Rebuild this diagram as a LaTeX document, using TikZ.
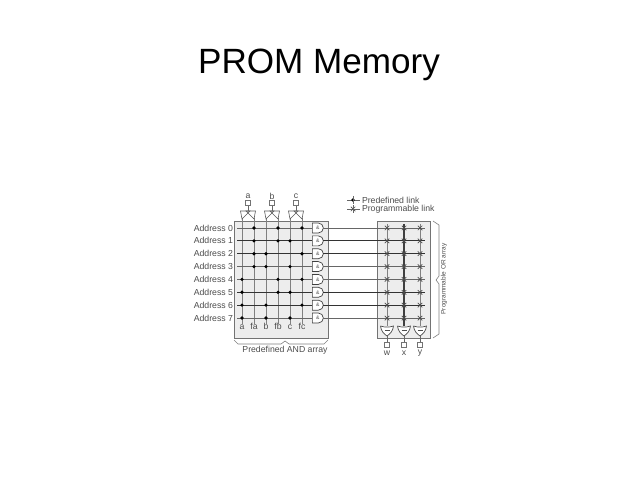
\documentclass[tikz,border=0pt]{standalone}
\usepackage{fontspec}
\setmainfont{Liberation Sans}
\usetikzlibrary{matrix,positioning,shapes.misc}
\tikzset{
    font = \fontsize{8.7}{10}\selectfont,
    every node/.style = {
        inner sep = 0pt,
        outer sep = 0pt,
        text = black!70
    },
    every matrix/.style = {
        inner sep = 0pt,
        outer sep = 0pt
    },
    title/.style = {
        anchor = base,
        text = black,
        font = \fontsize{35.1}{40}\selectfont
    },
    array box/.style = {
        draw = black!55,
        fill = black!7,
        line width = 0.8pt
    },
    note right/.style = {
        anchor = east,
        minimum height = 12.86pt
    },
    col label/.style = {
        text height = 6pt,
        text depth = 0pt
    },
    and gate/.style = {
        rounded rectangle,
        rounded rectangle left arc = none,
        draw = black!75,
        fill = white,
        line width = 0.7pt,
        minimum width = 11pt,
        minimum height = 10pt,
        anchor = center,
        font = \fontsize{5}{6}\selectfont
    },
    column/.style = {
        draw = black!50,
        line width = 1pt
    },
    strong column/.style = {
        draw = black!75,
        line width = 1.2pt
    },
    row/.style = {
        draw = black!60,
        line width = 0.6pt
    },
    strong row/.style = {
        draw = black!80,
        line width = 0.9pt
    },
    stub/.style = {
        draw = black!55,
        fill = white,
        line width = 0.6pt,
        minimum width = 4.5pt,
        minimum height = 5.5pt
    },
    fixed link/.style = {
        circle,
        fill = black,
        minimum size = 3.6pt
    },
    prog link/.style = {
        cross out,
        draw = black!70,
        line width = 0.7pt,
        minimum size = 4.5pt
    },
    bracket/.style = {
        draw = black!50,
        line width = 0.6pt
    },
    inbuf/.pic = {
        \draw[black!65, line width = 0.6pt] (-7.5pt,0) -- (2pt,0) -- (-6pt,-8pt) -- cycle;
        \draw[black!65, line width = 0.6pt] (-2pt,0) -- (7.5pt,0) -- (6pt,-8pt) -- cycle;
    },
    orgate/.pic = {
        \draw[black!70, fill = white, line width = 0.7pt] (-6.5pt,0) .. controls (-2pt,-1.5pt) and (2pt,-1.5pt) .. (6.5pt,0)
            .. controls (6pt,-5pt) and (3pt,-8pt) .. (0,-10pt)
            .. controls (-3pt,-8pt) and (-6pt,-5pt) .. (-6.5pt,0);
        \draw[black!70, line width = 0.7pt] (-2.5pt,-4pt) -- (2.5pt,-4pt);
    }
}
\begin{document}
\begin{tikzpicture}
    \useasboundingbox (0,0) rectangle (638pt,-478pt);
    \node (prom) at (319pt,-74pt) [title]{PROM Memory};
    % the two shaded arrays
    \node (andbox) at (234pt,-221pt) [array box, anchor = north west, minimum width = 94pt, minimum height = 117pt]{};
    \node (orbox) at (377pt,-221pt) [array box, anchor = north west, minimum width = 53pt, minimum height = 117pt]{};
    \matrix (addr) at (233pt,-221.6pt) [
        anchor = north east,
        nodes = {note right}
    ]{
        \node (addr0) {Address 0}; \\
        \node (addr1) {Address 1}; \\
        \node (addr2) {Address 2}; \\
        \node (addr3) {Address 3}; \\
        \node (addr4) {Address 4}; \\
        \node (addr5) {Address 5}; \\
        \node (addr6) {Address 6}; \\
        \node (addr7) {Address 7}; \\
    };
    % column labels
    \node (la) at (242pt,-327pt) [col label]{a};
    \node (lfa) at (254pt,-327pt) [col label]{fa};
    \node (lb) at (266pt,-327pt) [col label]{b};
    \node (lfb) at (278pt,-327pt) [col label]{fb};
    \node (lc) at (290pt,-327pt) [col label]{c};
    \node (lfc) at (302pt,-327pt) [col label]{fc};
    \coordinate (ca) at (242pt,-218pt);
    \coordinate (cfa) at (254pt,-218pt);
    \coordinate (cb) at (266pt,-218pt);
    \coordinate (cfb) at (278pt,-218pt);
    \coordinate (cc) at (290pt,-218pt);
    \coordinate (cfc) at (302pt,-218pt);
    \draw[column] (ca) -- (la.north);
    \draw[column] (cfa) -- (lfa.north);
    \draw[column] (cb) -- (lb.north);
    \draw[column] (cfb) -- (lfb.north);
    \draw[column] (cc) -- (lc.north);
    \draw[column] (cfc) -- (lfc.north);
    % inputs
    \node (ina) at (248pt,-196pt) {a};
    \node (inb) at (272pt,-196pt) {b};
    \node (inc) at (296pt,-196pt) {c};
    \node (sa) at (248pt,-203pt) [stub]{};
    \node (sb) at (272pt,-203pt) [stub]{};
    \node (sc) at (296pt,-203pt) [stub]{};
    \pic at (248pt,-211pt) {inbuf};
    \pic at (272pt,-211pt) {inbuf};
    \pic at (296pt,-211pt) {inbuf};
    \draw[row] (sa.south) -- ++(0,-5pt);
    \draw[row] (sb.south) -- ++(0,-5pt);
    \draw[row] (sc.south) -- ++(0,-5pt);
    % OR plane columns
    \coordinate (ow) at (387pt,-224pt);
    \coordinate (ox) at (404pt,-224pt);
    \coordinate (oy) at (420pt,-224pt);
    \coordinate (gw) at (387pt,-326pt);
    \coordinate (gx) at (404pt,-326pt);
    \coordinate (gy) at (420pt,-326pt);
    \draw[column] (ow) -- (gw);
    \draw[strong column] (ox) -- (gx);
    \draw[column] (oy) -- (gy);
    \matrix (gates) at (312pt,-222.65pt) [
        anchor = north west,
        row sep = 2.16pt,
        nodes = {and gate}
    ]{
        \node (and0) {\&}; \\
        \node (and1) {\&}; \\
        \node (and2) {\&}; \\
        \node (and3) {\&}; \\
        \node (and4) {\&}; \\
        \node (and5) {\&}; \\
        \node (and6) {\&}; \\
        \node (and7) {\&}; \\
    };
    \draw[row, shorten <= 4pt] (addr0.east) -- (addr0.east -| and0.west);
    \draw[strong row, shorten <= 4pt] (addr1.east) -- (addr1.east -| and1.west);
    \draw[strong row, shorten <= 4pt] (addr2.east) -- (addr2.east -| and2.west);
    \draw[row, shorten <= 4pt] (addr3.east) -- (addr3.east -| and3.west);
    \draw[row, shorten <= 4pt] (addr4.east) -- (addr4.east -| and4.west);
    \draw[strong row, shorten <= 4pt] (addr5.east) -- (addr5.east -| and5.west);
    \draw[strong row, shorten <= 4pt] (addr6.east) -- (addr6.east -| and6.west);
    \draw[row, shorten <= 4pt] (addr7.east) -- (addr7.east -| and7.west);
    \draw[row, shorten >= 5pt] (and0.east) -- (and0.east -| orbox.east);
    \draw[strong row, shorten >= 5pt] (and1.east) -- (and1.east -| orbox.east);
    \draw[strong row, shorten >= 5pt] (and2.east) -- (and2.east -| orbox.east);
    \draw[row, shorten >= 5pt] (and3.east) -- (and3.east -| orbox.east);
    \draw[row, shorten >= 5pt] (and4.east) -- (and4.east -| orbox.east);
    \draw[strong row, shorten >= 5pt] (and5.east) -- (and5.east -| orbox.east);
    \draw[strong row, shorten >= 5pt] (and6.east) -- (and6.east -| orbox.east);
    \draw[row, shorten >= 5pt] (and7.east) -- (and7.east -| orbox.east);
    % predefined links
    \node (d0a) at (cfa |- and0) [fixed link]{}; \node (d0b) at (cfb |- and0) [fixed link]{}; \node (d0c) at (cfc |- and0) [fixed link]{};
    \node (d1a) at (cfa |- and1) [fixed link]{}; \node (d1b) at (cfb |- and1) [fixed link]{}; \node (d1c) at (cc |- and1) [fixed link]{};
    \node (d2a) at (cfa |- and2) [fixed link]{}; \node (d2b) at (cb |- and2) [fixed link]{}; \node (d2c) at (cfc |- and2) [fixed link]{};
    \node (d3a) at (cfa |- and3) [fixed link]{}; \node (d3b) at (cb |- and3) [fixed link]{}; \node (d3c) at (cc |- and3) [fixed link]{};
    \node (d4a) at (ca |- and4) [fixed link]{}; \node (d4b) at (cfb |- and4) [fixed link]{}; \node (d4c) at (cfc |- and4) [fixed link]{};
    \node (d5a) at (ca |- and5) [fixed link]{}; \node (d5b) at (cfb |- and5) [fixed link]{}; \node (d5c) at (cc |- and5) [fixed link]{};
    \node (d6a) at (ca |- and6) [fixed link]{}; \node (d6b) at (cb |- and6) [fixed link]{}; \node (d6c) at (cfc |- and6) [fixed link]{};
    \node (d7a) at (ca |- and7) [fixed link]{}; \node (d7b) at (cb |- and7) [fixed link]{}; \node (d7c) at (cc |- and7) [fixed link]{};
    % programmable links
    \node (p0w) at (ow |- and0) [prog link]{}; \node (p0x) at (ox |- and0) [prog link]{}; \node (p0y) at (oy |- and0) [prog link]{};
    \node (p1w) at (ow |- and1) [prog link]{}; \node (p1x) at (ox |- and1) [prog link]{}; \node (p1y) at (oy |- and1) [prog link]{};
    \node (p2w) at (ow |- and2) [prog link]{}; \node (p2x) at (ox |- and2) [prog link]{}; \node (p2y) at (oy |- and2) [prog link]{};
    \node (p3w) at (ow |- and3) [prog link]{}; \node (p3x) at (ox |- and3) [prog link]{}; \node (p3y) at (oy |- and3) [prog link]{};
    \node (p4w) at (ow |- and4) [prog link]{}; \node (p4x) at (ox |- and4) [prog link]{}; \node (p4y) at (oy |- and4) [prog link]{};
    \node (p5w) at (ow |- and5) [prog link]{}; \node (p5x) at (ox |- and5) [prog link]{}; \node (p5y) at (oy |- and5) [prog link]{};
    \node (p6w) at (ow |- and6) [prog link]{}; \node (p6x) at (ox |- and6) [prog link]{}; \node (p6y) at (oy |- and6) [prog link]{};
    \node (p7w) at (ow |- and7) [prog link]{}; \node (p7x) at (ox |- and7) [prog link]{}; \node (p7y) at (oy |- and7) [prog link]{};
    % outputs
    \pic at (gw) {orgate};
    \pic at (gx) {orgate};
    \pic at (gy) {orgate};
    \node (sw) at (387pt,-345pt) [stub]{};
    \node (sx) at (404pt,-345pt) [stub]{};
    \node (sy) at (420pt,-345pt) [stub]{};
    \node (w) at (387pt,-353pt) {w};
    \node (x) at (404pt,-353pt) {x};
    \node (y) at (420pt,-353pt) {y};
    \draw[row] (gw) ++(0,-10pt) -- (sw.north);
    \draw[row] (gx) ++(0,-10pt) -- (sx.north);
    \draw[row] (gy) ++(0,-10pt) -- (sy.north);
    % brackets
    \draw[bracket] (andbox.south west) ++(0,-2pt) -- ++(4pt,-4pt) -| (281pt,-344pt) -- (285pt,-341pt) -- (289pt,-344pt) -- (324pt,-344pt) -- ++(4pt,4pt);
    \node (andnote) at (285pt,-350pt) {Predefined AND array};
    \draw[bracket] (orbox.north east) ++(3pt,0) -- ++(6pt,-4pt) |- (439pt,-276pt) -- (436pt,-280pt) -- (439pt,-284pt) -- (439pt,-334pt) -- ++(-6pt,-4pt);
    \node (ornote) at (444pt,-279pt) [rotate = 90, font = \fontsize{6.5}{8}\selectfont]{Programmable OR array};
    % legend
    \node (fixednote) at (362pt,-200pt) [anchor = west]{Predefined link};
    \node (prognote) at (362pt,-209pt) [anchor = west]{Programmable link};
    \coordinate (fixedend) at (347pt,-200pt);
    \coordinate (progend) at (347pt,-209pt);
    \draw[row, shorten >= 2pt] (fixedend) -- (fixednote.west);
    \draw[row, shorten >= 2pt] (progend) -- (prognote.west);
    \node (fixedsym) at (353pt,-200pt) [fixed link]{};
    \node (progsym) at (353pt,-209pt) [prog link]{};
    \draw[row] (fixedsym.center) ++(0,4pt) -- ++(0,-8pt);
    \draw[row] (progsym.center) ++(0,4pt) -- ++(0,-8pt);
\end{tikzpicture}
\end{document}
